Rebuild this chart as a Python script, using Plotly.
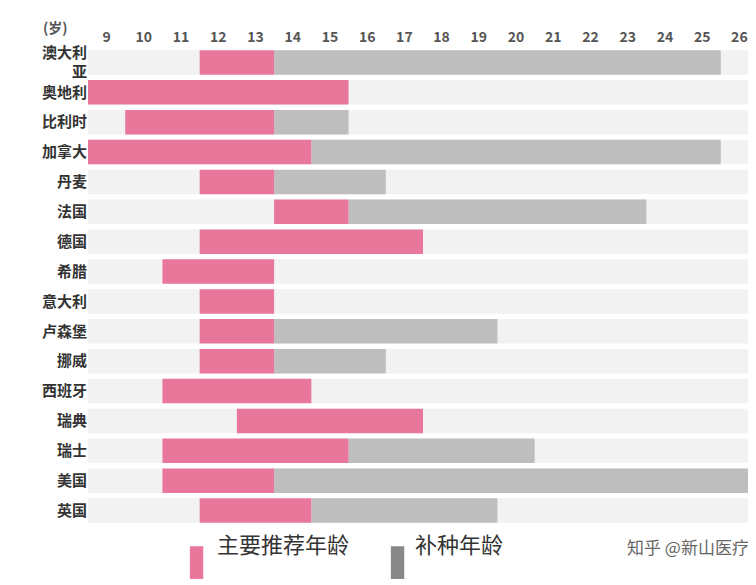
import plotly.graph_objects as go

countries = ["澳大利<br>亚","奥地利","比利时","加拿大","丹麦","法国","德国","希腊","意大利","卢森堡","挪威","西班牙","瑞典","瑞士","美国","英国"]
pink_start = [12, 9, 10, 9, 12, 14, 12, 11, 12, 12, 12, 11, 13, 11, 11, 12]
pink_end   = [13, 15, 13, 14, 13, 15, 17, 13, 13, 13, 13, 14, 17, 15, 13, 14]
gray_end   = [25, None, 15, 25, 16, 23, None, None, None, 19, 16, None, None, 20, 26, 19]
ages = list(range(9, 27))

PINK = "#E8779B"; GRAY = "#BEBEBE"; BG = "#F2F2F2"
fig = go.Figure()
fig.add_bar(y=countries, x=[18]*len(countries), base=[8.5]*len(countries), orientation="h",
            marker=dict(color=BG, line=dict(width=0)), width=0.82, showlegend=False, hoverinfo="skip")
gy, gx, gb = [], [], []
for c, pe, ge in zip(countries, pink_end, gray_end):
    if ge is not None:
        gy.append(c); gb.append(pe + 0.5); gx.append(ge - pe)
fig.add_bar(y=gy, x=gx, base=gb, orientation="h", marker=dict(color=GRAY, line=dict(width=0)),
            width=0.82, showlegend=False)
fig.add_bar(y=countries, x=[e - s + 1 for s, e in zip(pink_start, pink_end)],
            base=[s - 0.5 for s in pink_start], orientation="h",
            marker=dict(color=PINK, line=dict(width=0)), width=0.82, showlegend=False)

fig.update_layout(
    width=756, height=585, barmode="overlay", bargap=0.1,
    paper_bgcolor="white", plot_bgcolor="white",
    margin=dict(l=80, r=6, t=38, b=66, autoexpand=False),
    font=dict(family="Noto Sans CJK SC", color="#333"),
    xaxis=dict(range=[8.5, 26.5], side="top", tickvals=ages, ticktext=[f"<b>{a}</b>" for a in ages],
               showgrid=False, zeroline=False, ticks="", automargin=False,
               tickfont=dict(size=14, color="#555", family="Noto Sans CJK SC"), fixedrange=True),
    yaxis=dict(categoryorder="array", categoryarray=countries[::-1], autorange=False,
               range=[-0.55, 15.55], showgrid=False, ticks="", ticklen=0, automargin=False,
               tickvals=countries, ticktext=[f"<b>{c}</b>" for c in countries],
               tickfont=dict(size=15, color="#333", family="Noto Sans CJK SC")),
)
fig.layout.annotations = [
    dict(text="<b>(岁)</b>", xref="paper", yref="paper", x=-0.07, y=1.065, showarrow=False,
         font=dict(size=14, color="#555")),
    dict(text="主要推荐年龄", xref="paper", yref="paper", x=0.19, y=-0.07, xanchor="left",
         showarrow=False, font=dict(size=22, color="#333")),
    dict(text="补种年龄", xref="paper", yref="paper", x=0.485, y=-0.07, xanchor="left",
         showarrow=False, font=dict(size=22, color="#333")),
    dict(text="知乎 @新山医疗", xref="paper", yref="paper", x=0.99, y=-0.07, xanchor="right",
         showarrow=False, font=dict(size=17, color="#666")),
]
fig.add_shape(type="rect", xref="paper", yref="paper", x0=0.152, x1=0.172, y0=-0.108, y1=-0.04,
              fillcolor=PINK, line=dict(width=0))
fig.add_shape(type="rect", xref="paper", yref="paper", x0=0.452, x1=0.472, y0=-0.108, y1=-0.04,
              fillcolor="#888", line=dict(width=0))
fig.write_html("out.html")
